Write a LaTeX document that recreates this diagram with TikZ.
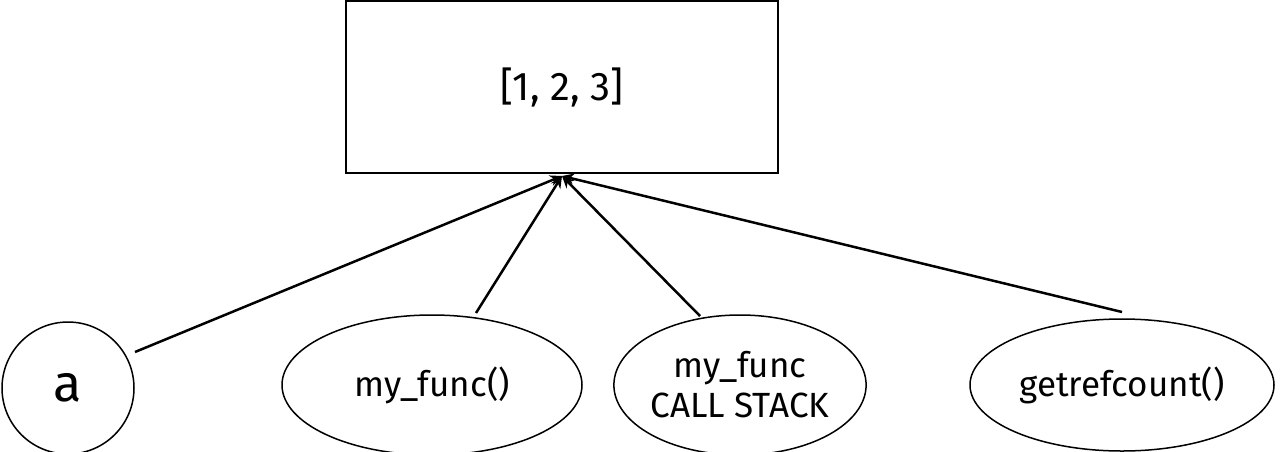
\documentclass[tikz,border=0pt]{standalone}
\usepackage{fontspec}
\setmainfont{Fira Sans}
\usetikzlibrary{shapes.geometric,arrows.meta}
\begin{document}
\begin{tikzpicture}[x=1pt,y=-1pt,
  sh/.style={draw=black,line width=1.5pt},
  lbl/.style={font=\fontsize{35}{40}\selectfont,align=center},
  arr/.style={line width=2.5pt,-{Stealth[open,length=12pt,width=11pt]}}]
\useasboundingbox (0,0) rectangle (1280,451);
\node[sh,rectangle,minimum width=432pt,minimum height=172pt,font=\fontsize{40}{46}\selectfont] (box) at (562,87) {[1, 2, 3]};
\node[sh,circle,minimum size=132pt,font=\fontsize{52}{60}\selectfont] (a) at (68,388) {a};
\node[sh,ellipse,minimum width=300pt,minimum height=140pt,lbl] (f) at (432,385) {my\_func()};
\node[sh,ellipse,minimum width=250pt,minimum height=140pt,lbl,inner sep=0pt] (s) at (740,385) {my\_func\\CALL STACK};
\node[sh,ellipse,minimum width=304pt,minimum height=132pt,lbl,inner sep=0pt] (g) at (1122,385) {getrefcount()};
\coordinate (t) at (562,176);
\draw[arr] (135,352) -- (t);
\draw[arr] (476,313) -- (t);
\draw[arr] (700,316) -- (t);
\draw[arr] (1122,312) -- (t);
\end{tikzpicture}
\end{document}
